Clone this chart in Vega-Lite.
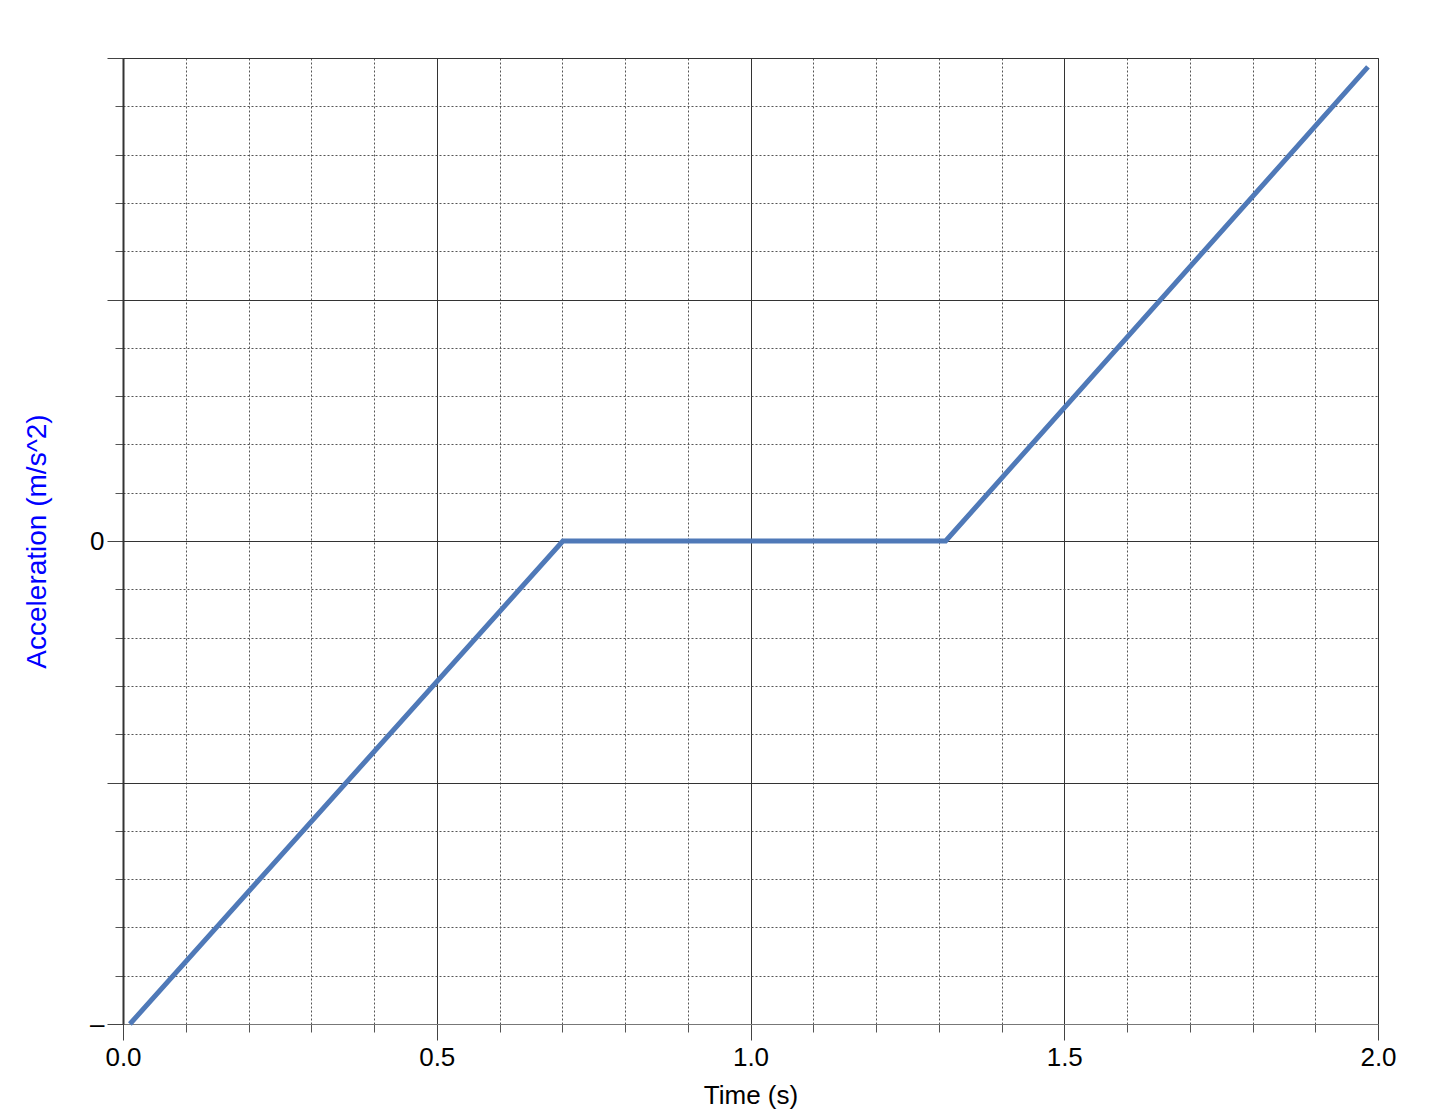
{
  "$schema": "https://vega.github.io/schema/vega-lite/v6.json",
  "autosize": "none",
  "width": 1255,
  "height": 966,
  "padding": {"left": 123, "top": 58, "right": 68, "bottom": 90},
  "background": "#ffffff",
  "data": {
    "values": [
      {"time": 0.011, "accel": -2.0},
      {"time": 0.701, "accel": 0.0},
      {"time": 1.311, "accel": 0.0},
      {"time": 1.984, "accel": 1.963}
    ]
  },
  "layer": [
    {
      "mark": {"type": "line", "strokeOpacity": 0},
      "encoding": {
        "x": {
          "field": "time", "type": "quantitative",
          "scale": {"domain": [0, 2], "nice": false, "zero": false},
          "axis": {
            "orient": "bottom",
            "title": null, "labels": false, "domain": false,
            "values": [0.1, 0.2, 0.3, 0.4, 0.6, 0.7, 0.8, 0.9, 1.1, 1.2, 1.3, 1.4, 1.6, 1.7, 1.8, 1.9],
            "tickSize": 8, "tickColor": "#555",
            "grid": true, "gridColor": "#555", "gridDash": [2, 2], "gridWidth": 1
          }
        },
        "y": {
          "field": "accel", "type": "quantitative",
          "scale": {"domain": [-2, 2], "nice": false, "zero": false},
          "axis": {
            "orient": "left",
            "title": null, "labels": false, "domain": false,
            "values": [-1.8, -1.6, -1.4, -1.2, -0.8, -0.6, -0.4, -0.2, 0.2, 0.4, 0.6, 0.8, 1.2, 1.4, 1.6, 1.8],
            "tickSize": 8, "tickColor": "#555",
            "grid": true, "gridColor": "#555", "gridDash": [2, 2], "gridWidth": 1
          }
        }
      }
    },
    {
      "mark": {"type": "line", "color": "#4f79b8", "strokeWidth": 5, "clip": false},
      "encoding": {
        "x": {
          "field": "time", "type": "quantitative",
          "axis": {
            "orient": "bottom",
            "title": "Time (s)",
            "values": [0, 0.5, 1, 1.5, 2],
            "format": ".1f",
            "labelFlush": false,
            "tickSize": 16, "tickColor": "#444",
            "labelPadding": 4,
            "domainColor": "#777",
            "grid": true, "gridColor": "#333", "gridWidth": 1,
            "titlePadding": 12
          }
        },
        "y": {
          "field": "accel", "type": "quantitative",
          "axis": {
            "orient": "left",
            "title": "Acceleration (m/s^2)",
            "titleColor": "#0000ff",
            "titleFontSize": 28,
            "values": [-2, -1, 0, 1, 2],
            "labelExpr": "datum.value == 0 ? '0' : (datum.value == -2 ? '–' : '')",
            "labelFlush": false,
            "tickSize": 16, "tickColor": "#444",
            "labelPadding": 3,
            "domainColor": "#333", "domainWidth": 2,
            "grid": true, "gridColor": "#333", "gridWidth": 1,
            "titlePadding": 38
          }
        }
      }
    }
  ],
  "resolve": {"axis": {"x": "independent", "y": "independent"}},
  "config": {
    "font": "Liberation Sans",
    "view": {"stroke": "#666", "strokeWidth": 1},
    "axis": {
      "labelFont": "Liberation Sans",
      "titleFont": "Liberation Sans",
      "labelFontSize": 26,
      "titleFontSize": 26,
      "titleFontWeight": "normal",
      "labelColor": "#000000",
      "titleColor": "#000000"
    }
  }
}
